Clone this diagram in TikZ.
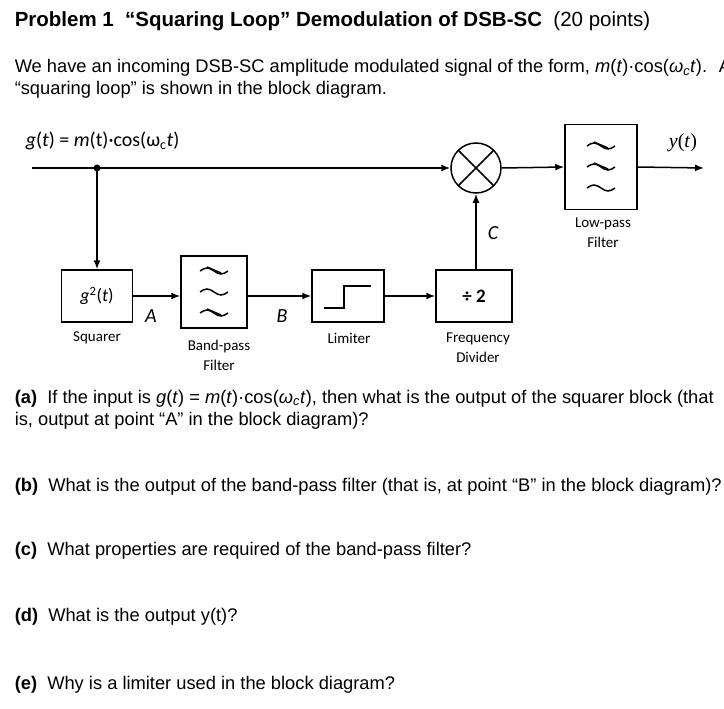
\documentclass[tikz,border=0pt]{standalone}
\usepackage{fontspec}
\setmainfont{Liberation Sans}
\newfontfamily\carl{Carlito}
\newfontfamily\tms{Liberation Serif}
\usetikzlibrary{arrows.meta}
\begin{document}
\begin{tikzpicture}[x=1pt,y=-1pt,line width=1.5pt,
  blk/.style={draw,line width=1.5pt,minimum width=#1,inner sep=0pt,font=\carl\fontsize{18}{18}\selectfont},
  lbl/.style={font=\carl\fontsize{15}{20}\selectfont,align=center},
  lett/.style={font=\carl\itshape\fontsize{20}{20}\selectfont},
  txt/.style={anchor=base west,inner sep=0pt,font=\fontsize{18.3}{18}\selectfont},
  arr/.style={-{Latex[length=9pt,width=7pt]}},
  wave/.pic={\draw (-14,0) sin (-7,-3) cos (0,0) sin (7,3) cos (14,0);},
  wavex/.pic={\draw (-14,0) sin (-7,-3) cos (0,0) sin (7,3) cos (14,0); \draw (-7,-4)--(7,2);}]
\useasboundingbox (0,0) rectangle (724,709);
\node[txt,font=\fontsize{20.5}{20}\selectfont] (t1) at (14,27) {\textbf{Problem 1 \ “Squaring Loop” Demodulation of DSB-SC} \ (20 points)};
\node[txt] (t2) at (14,73) {We have an incoming DSB-SC amplitude modulated signal of the form, \textit{m}(\textit{t})·cos(\textit{ω\textsubscript{c}t}). \ A};
\node[txt] (t3) at (14,95) {“squaring loop” is shown in the block diagram.};
% diagram
\node[font=\carl\fontsize{20}{20}\selectfont,anchor=west,inner sep=0pt] (g) at (25,141) {\textit{g}(\textit{t}) = \textit{m}(t)·cos(ω\textsubscript{c}\textit{t})};
\coordinate (in) at (32,168);
\fill (97,168) circle (3.5) coordinate (dot);
\node[draw,circle,minimum size=50] (mix) at (476,168) {};
\draw (mix.north west)--(mix.south east) (mix.north east)--(mix.south west);
\node[blk,minimum width=72,minimum height=85] (lpf) at (601,167) {};
\pic at (601,146) {wavex}; \pic at (601,167) {wavex}; \pic at (601,188) {wave};
\coordinate (out) at (704,168);
\node[font=\tms\fontsize{20}{20}\selectfont] (y) at (683,143) {\textit{y}(\textit{t})};
\node[lbl] (lpfl) at (603,233) {Low-pass\\Filter};
\node[blk,minimum width=71,minimum height=52] (sq) at (97,296) {\textit{g}\textsuperscript{2}(\textit{t})};
\node[lbl] at (97,338) {Squarer};
\node[blk,minimum width=66,minimum height=72] (bpf) at (214,292) {};
\pic at (214,271) {wavex}; \pic at (214,292) {wave}; \pic at (214,313) {wavex};
\node[lbl] at (219,355) {Band-pass\\Filter};
\node[blk,minimum width=72,minimum height=52] (lim) at (348,296) {};
\draw (324,308)--(344,308)--(344,286)--(371,286);
\node[lbl] at (349,338) {Limiter};
\node[blk,minimum width=76,minimum height=52,font=\carl\bfseries\fontsize{19}{19}\selectfont] (div) at (474,296) {÷ 2};
\node[lbl] at (478,348) {Frequency\\Divider};
\node[lett] (A) at (151,316) {A};
\node[lett] (B) at (282,316) {B};
\node[lett] (C) at (493,233) {C};
\draw (in)--(dot);
\draw[arr] (dot)--(mix.west);
\draw[arr] (mix.east)--(lpf.west);
\draw[arr] (lpf.east)--(out);
\draw[arr] (dot)--(sq.north);
\draw[arr] (sq.east)--(bpf.west|-sq.east);
\draw[arr] (bpf.east|-lim.west)--(lim.west);
\draw[arr] (lim.east)--(div.west);
\draw[arr] (div.north-|mix.south)--(mix.south);
% questions
\node[txt] at (14,403) {\textbf{(a)} \ If the input is \textit{g}(\textit{t}) = \textit{m}(\textit{t})·cos(\textit{ω\textsubscript{c}t}), then what is the output of the squarer block (that};
\node[txt] at (14,425) {is, output at point “A” in the block diagram)?};
\node[txt] at (14,491) {\textbf{(b)} \ What is the output of the band-pass filter (that is, at point “B” in the block diagram)?};
\node[txt] at (14,555) {\textbf{(c)} \ What properties are required of the band-pass filter?};
\node[txt] at (14,621) {\textbf{(d)} \ What is the output y(t)?};
\node[txt] at (14,689) {\textbf{(e)} \ Why is a limiter used in the block diagram?};
\end{tikzpicture}
\end{document}
